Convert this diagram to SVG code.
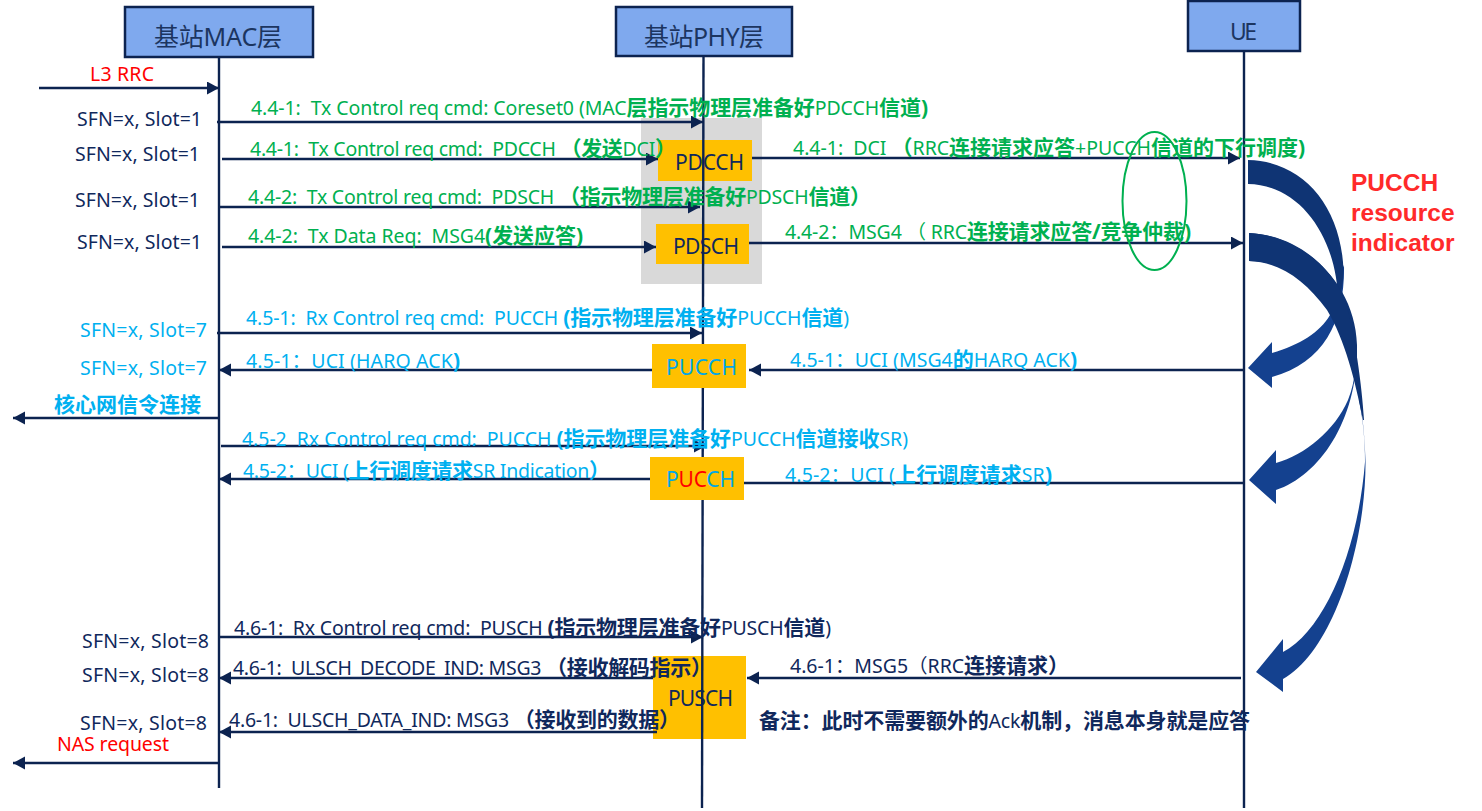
<svg xmlns="http://www.w3.org/2000/svg" width="1482" height="811" viewBox="0 0 1482 811">
<style>
text{font-family:"Noto Sans","Noto Sans CJK SC",sans-serif;font-size:19.5px;white-space:pre}
.b{font-weight:700;font-size:21px}
.g{fill:#00b050}.c{fill:#00b0f0}.n{fill:#10285c}.r{fill:#ff0000}
.hd{font-size:25px;fill:#1c3560}
.box{font-size:21px;fill:#10285c}
.head{fill:#7fa9ee;stroke:#0c2350;stroke-width:2.5}
.y{fill:#ffc000}
.life{stroke:#0c2350;stroke-width:2.4;fill:none}
.m{stroke:#0c2350;stroke-width:2.4;fill:none;marker-end:url(#a)}
.p{stroke:#0c2350;stroke-width:2.4;fill:none}
.dk{fill:#0f3474}.lt{fill:#14418f}
.pri{font-family:"Liberation Sans",Arial,sans-serif;font-size:24.5px;font-weight:700;fill:#ff2a2a}
</style>
<defs>
<marker id="a" markerUnits="userSpaceOnUse" markerWidth="13" markerHeight="14" refX="12" refY="6.5" orient="auto"><path d="M0,0L12,6.5L0,13Z" fill="#0c2350"/></marker>
</defs>
<rect width="1482" height="811" fill="#fff"/>
<g id="n-shade"><rect x="641" y="118" width="121" height="166" fill="#d9d9d9"/></g>
<g id="n-pdcch"><rect class="y" x="658" y="140" width="94" height="41"/><text class="box" x="675" y="170" textLength="69">PDCCH</text></g>
<g id="n-pdsch"><rect class="y" x="656" y="224" width="93" height="40"/><text class="box" x="673" y="254" textLength="66">PDSCH</text></g>
<g id="n-pusch"><rect class="y" x="653" y="656" width="93" height="83"/><text class="box" x="668" y="706" textLength="65">PUSCH</text></g>
<g id="n-mac"><line class="life" x1="219" y1="57" x2="219" y2="788"/><rect class="head" x="125" y="7" width="188" height="50"/><text class="hd" x="154" y="46" textLength="128">基站MAC层</text></g>
<g id="n-phy"><line class="life" x1="703.500" y1="56" x2="702" y2="808"/><rect class="head" x="616" y="7" width="176" height="49"/><text class="hd" x="644" y="46" textLength="120">基站PHY层</text></g>
<g id="n-ue"><line class="life" x1="1244" y1="51" x2="1244" y2="808"/><rect class="head" x="1188" y="1" width="112" height="50"/><text class="hd" x="1230" y="40" textLength="27" style="font-size:23px">UE</text></g>
<g id="n-pucch1"><rect class="y" x="652" y="344" width="94" height="44"/><text class="box c" style="fill:#00a7e8" x="666" y="375" textLength="71">PUCCH</text></g>
<g id="n-pucch2"><rect class="y" x="650" y="457" width="94" height="43"/><text class="box" style="fill:#00a7e8" x="666" y="487" textLength="69">P<tspan class="r">UC</tspan>CH</text></g>
<g id="connectors">
<path class="m" d="M39,88H219"/>
<path class="m" d="M217,122H703"/>
<path class="m" d="M222,159H658"/>
<path class="m" d="M219,207H700"/>
<path class="m" d="M222,247H656"/>
<path class="m" d="M752,158H1240"/>
<path class="m" d="M749,243H1243"/>
<path class="m" d="M217,333H702"/>
<path class="m" d="M652,370H219"/>
<path class="m" d="M1244,370H749"/>
<path class="m" d="M219,418H13"/>
<path class="m" d="M221,446H706"/>
<path class="m" d="M650,479H219"/>
<path class="p" d="M1244,483H744"/>
<path class="m" d="M219,637H703"/>
<path class="m" d="M653,678H219"/>
<path class="m" d="M1241,678H747"/>
<path class="m" d="M657,732H219"/>
<path class="m" d="M219,763H13"/>
</g>
<g id="n-ellipse"><ellipse cx="1154.500" cy="201" rx="32" ry="69" fill="none" stroke="#00b050" stroke-width="2"/></g>
<g id="curved-arrows">
<path class="lt" d="M1344,265C1345,320 1325,362 1272,377L1272,388L1248,368L1272,342L1272,353C1300,345 1320,332 1330,315C1338,300 1341,285 1342,270Z"/>
<path class="dk" d="M1248,160C1302,161 1341,205 1343.500,270C1343.500,280 1342,292 1338,300C1337,240 1302,185 1248,184Z"/>
<path class="lt" d="M1357,345C1358,420 1320,475 1276,490L1276,504L1249,480L1276,450L1276,463C1305,455 1335,430 1348,400C1352,390 1354,380 1355,372Z"/>
<path class="lt" d="M1360,400C1363,420 1365,440 1365.500,462C1366,540 1335,650 1283,679L1283,692L1256,672L1283,639L1283,652C1325,630 1358,550 1365,462C1365,440 1363,420 1359,400Z"/>
<path class="dk" d="M1249,233C1300,235 1355,280 1357,345L1357,378C1350,320 1315,262 1249,261Z"/>
<path class="dk" d="M1249,233C1295,235 1330,265 1345,300C1355,335 1362,385 1364,420L1363,420C1355,380 1345,340 1327,310C1305,280 1280,262 1249,261Z"/>
</g>
<g id="labels">
<text class="r" x="90" y="81" textLength="64">L3 RRC</text>
<text class="n" x="77" y="126" textLength="125">SFN=x, Slot=1</text>
<text class="n" x="75" y="161" textLength="125">SFN=x, Slot=1</text>
<text class="n" x="75" y="207" textLength="125">SFN=x, Slot=1</text>
<text class="n" x="77" y="249" textLength="125">SFN=x, Slot=1</text>
<text class="c" x="80" y="337" textLength="127">SFN=x, Slot=7</text>
<text class="c" x="80" y="375" textLength="127">SFN=x, Slot=7</text>
<text class="n" x="82" y="648" textLength="127">SFN=x, Slot=8</text>
<text class="n" x="82" y="682" textLength="127">SFN=x, Slot=8</text>
<text class="n" x="80" y="730" textLength="127">SFN=x, Slot=8</text>
<text class="c b" x="54" y="412" textLength="147">核心网信令连接</text>
<text class="r" x="57" y="751" textLength="112">NAS request</text>

<text class="g" x="251" y="115" textLength="677">4.4-1:  Tx Control req cmd: Coreset0 (MAC<tspan class="b">层指示物理层准备好</tspan>PDCCH<tspan class="b">信道)</tspan></text>
<text class="g" x="250" y="156" textLength="426">4.4-1:  Tx Control req cmd:  PDCCH <tspan class="b">（发送</tspan>DCI<tspan class="b">）</tspan></text>
<text class="g" x="248" y="204" textLength="623">4.4-2:  Tx Control req cmd:  PDSCH <tspan class="b">（指示物理层准备好</tspan>PDSCH<tspan class="b">信道）</tspan></text>
<text class="g" x="248" y="243" textLength="335">4.4-2:  Tx Data Req:  MSG4<tspan class="b">(发送应答)</tspan></text>
<text class="g" x="793" y="155" textLength="512">4.4-1:  DCI <tspan class="b">（</tspan>RRC<tspan class="b">连接请求应答</tspan>+PUCCH<tspan class="b">信道的下行调度)</tspan></text>
<text class="g" x="785" y="239" textLength="406">4.4-2：MSG4 （ RRC<tspan class="b">连接请求应答/竞争仲裁)</tspan></text>

<text class="c" x="246" y="325" textLength="603">4.5-1:  Rx Control req cmd:  PUCCH <tspan class="b">(指示物理层准备好</tspan>PUCCH<tspan class="b">信道</tspan>)</text>
<text class="c" x="246" y="368" textLength="214">4.5-1：UCI (HARQ ACK<tspan class="b">)</tspan></text>
<text class="c" x="790" y="367" textLength="287">4.5-1：UCI (MSG4<tspan class="b">的</tspan>HARQ ACK<tspan class="b">)</tspan></text>
<text class="c" x="242" y="446" textLength="666">4.5-2  Rx Control req cmd:  PUCCH <tspan class="b">(指示物理层准备好</tspan>PUCCH<tspan class="b">信道接收</tspan>SR)</text>
<text class="c" x="243" y="478" textLength="367">4.5-2：UCI (<tspan class="b">上行调度请求</tspan>SR Indication<tspan class="b">）</tspan></text>
<text class="c" x="785" y="482" textLength="267">4.5-2：UCI (<tspan class="b">上行调度请求</tspan>SR<tspan class="b">)</tspan></text>

<text class="n" x="234" y="635" textLength="597">4.6-1:  Rx Control req cmd:  PUSCH <tspan class="b">(指示物理层准备好</tspan>PUSCH<tspan class="b">信道</tspan>)</text>
<text class="n" x="233" y="675" textLength="479">4.6-1:  ULSCH_DECODE_IND: MSG3 <tspan class="b">（接收解码指示）</tspan></text>
<text class="n" x="790" y="673" textLength="279">4.6-1：MSG5（RRC<tspan class="b">连接请求）</tspan></text>
<text class="n" x="229" y="727" textLength="451">4.6-1:  ULSCH_DATA_IND: MSG3 <tspan class="b">（接收到的数据）</tspan></text>
<text class="n" x="759" y="728" textLength="491"><tspan class="b">备注：此时不需要额外的</tspan>Ack<tspan class="b">机制，消息本身就是应答</tspan></text>

<text class="pri" x="1351" y="191">PUCCH</text>
<text class="pri" x="1351" y="221">resource</text>
<text class="pri" x="1351" y="251">indicator</text>
</g>
</svg>
